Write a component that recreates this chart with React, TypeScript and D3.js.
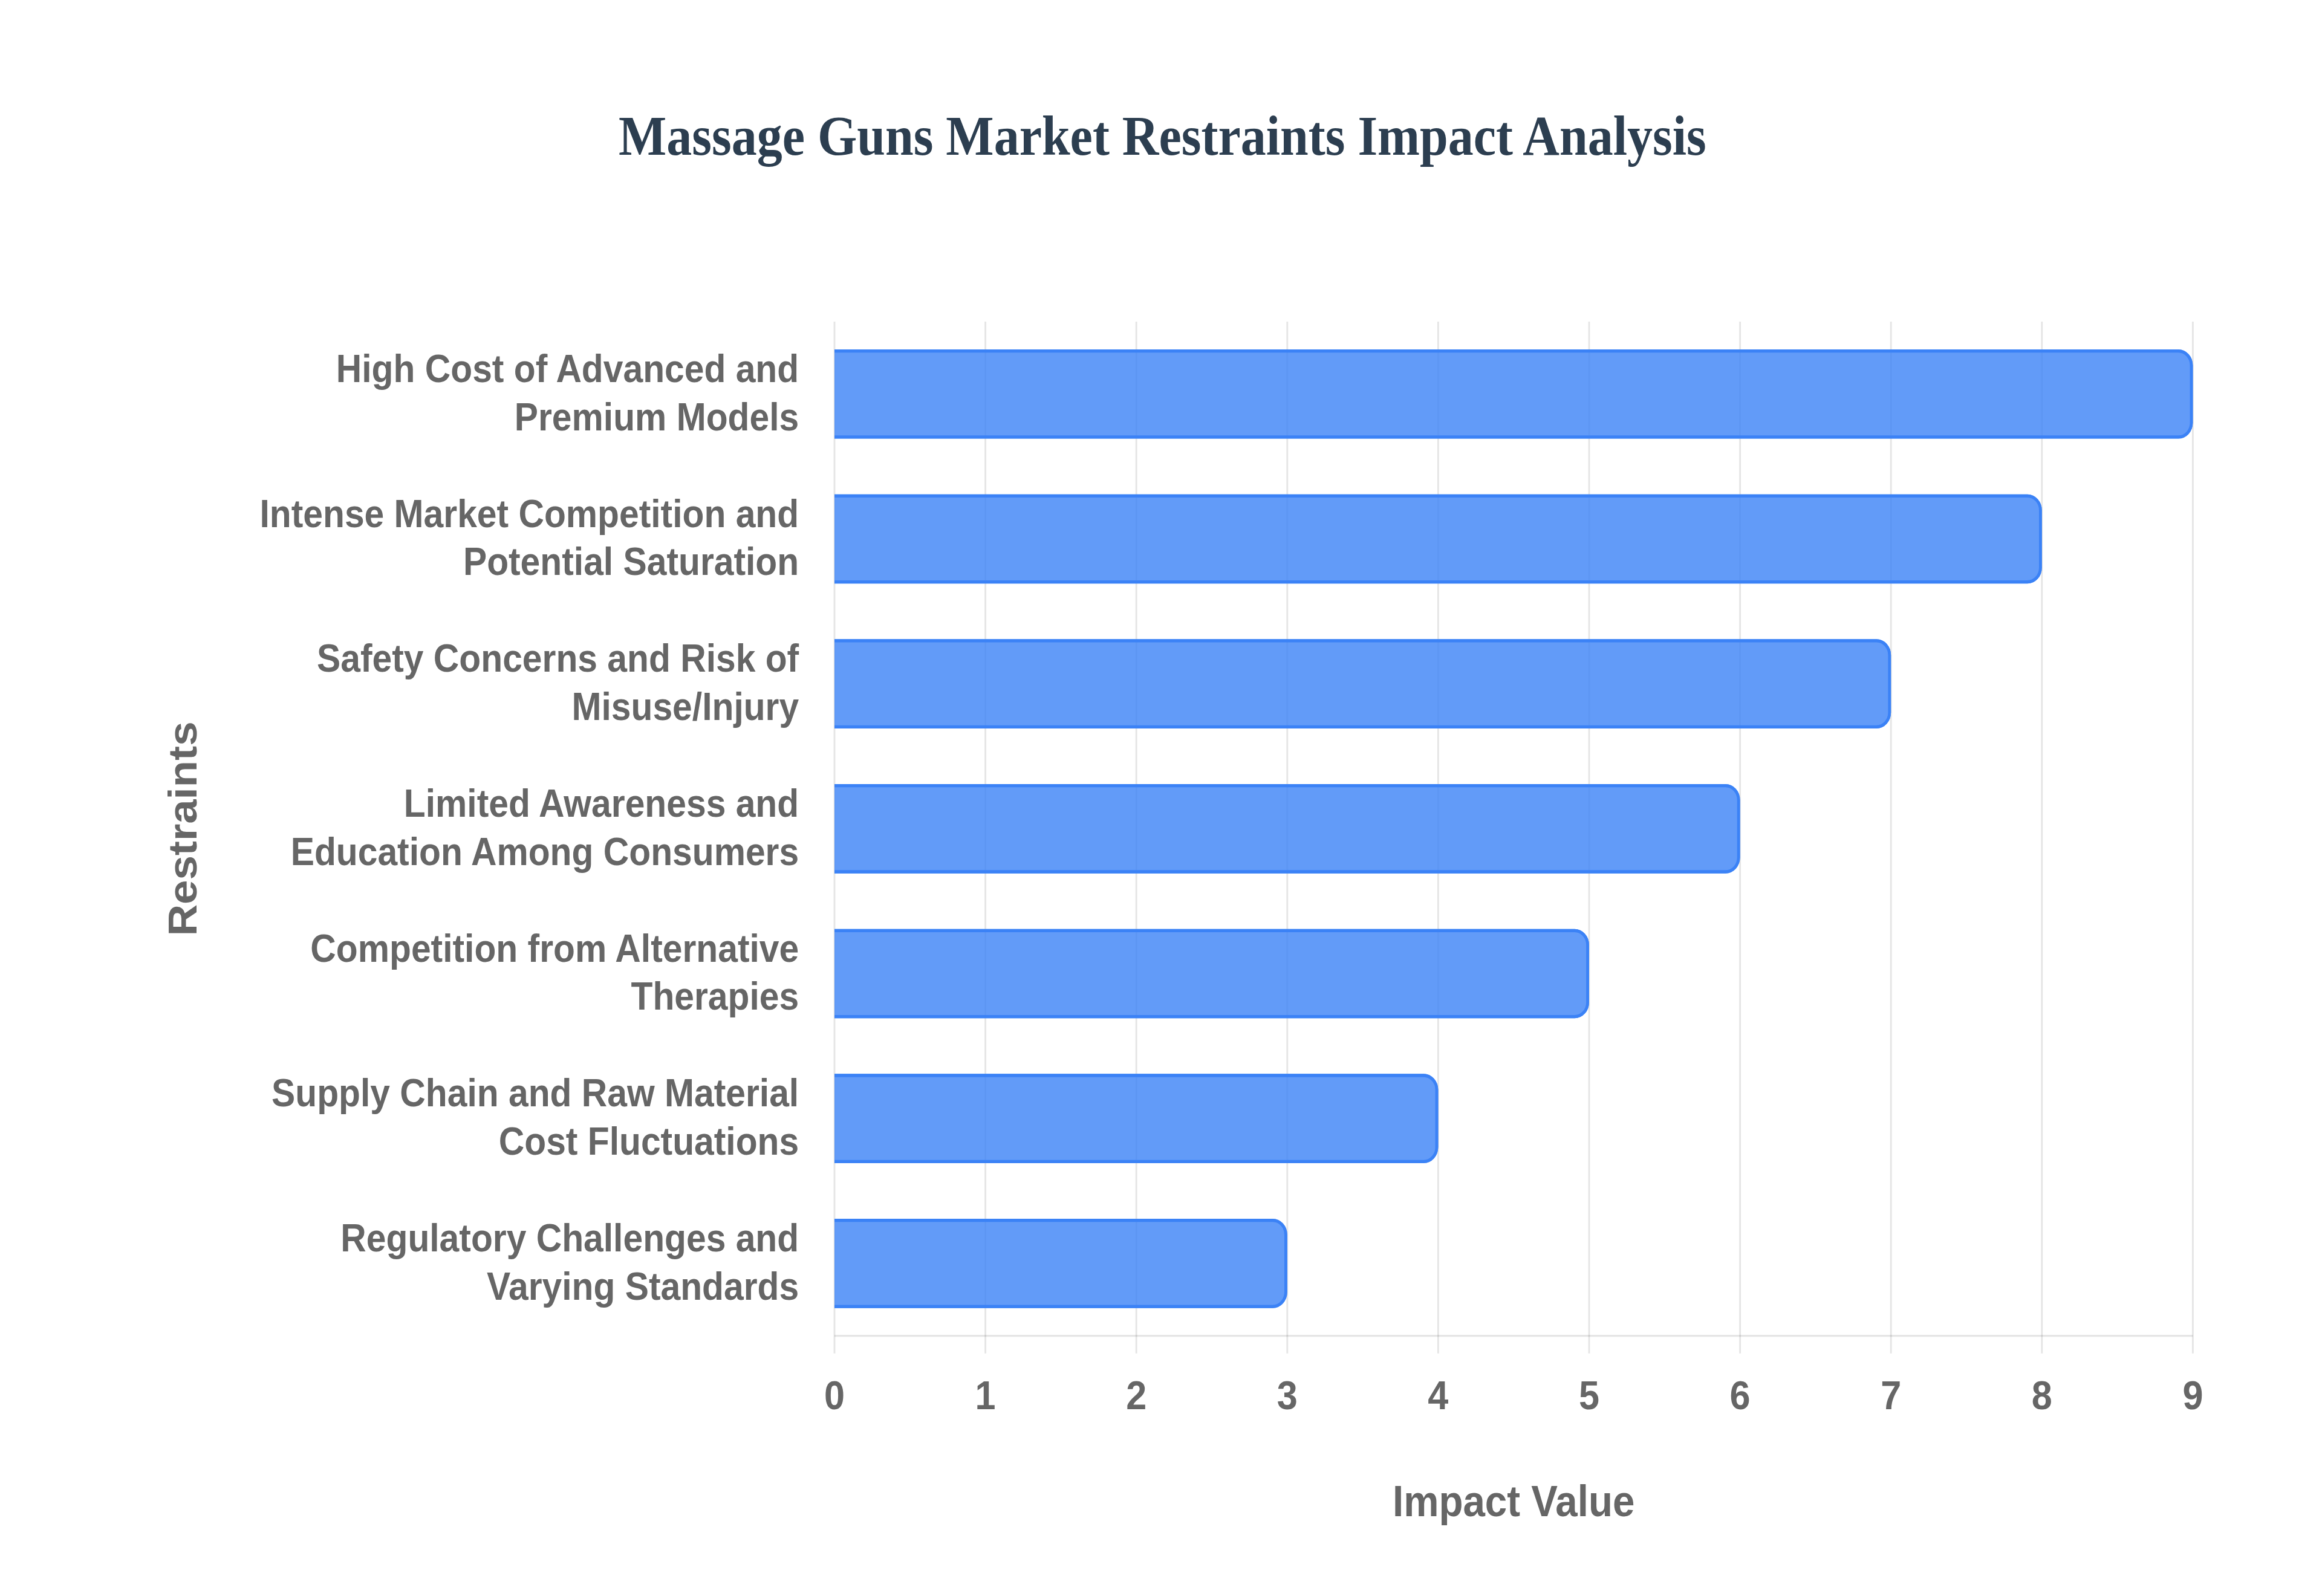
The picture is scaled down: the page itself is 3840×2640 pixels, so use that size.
import React from "react";
import * as d3 from "d3";

// Restraint categories, top to bottom
const restraints = [
  "High Cost of Advanced and Premium Models",
  "Intense Market Competition and Potential Saturation",
  "Safety Concerns and Risk of Misuse/Injury",
  "Limited Awareness and Education Among Consumers",
  "Competition from Alternative Therapies",
  "Supply Chain and Raw Material Cost Fluctuations",
  "Regulatory Challenges and Varying Standards",
];

// wrapped tick labels as they appear on the axis
const restraintLines = [
  ["High Cost of Advanced and", "Premium Models"],
  ["Intense Market Competition and", "Potential Saturation"],
  ["Safety Concerns and Risk of", "Misuse/Injury"],
  ["Limited Awareness and", "Education Among Consumers"],
  ["Competition from Alternative", "Therapies"],
  ["Supply Chain and Raw Material", "Cost Fluctuations"],
  ["Regulatory Challenges and", "Varying Standards"],
];

const impactValues = [9, 8, 7, 6, 5, 4, 3];

const xTicks = [0, 1, 2, 3, 4, 5, 6, 7, 8, 9];

const TITLE = "Massage Guns Market Restraints Impact Analysis";
const X_TITLE = "Impact Value";
const Y_TITLE = "Restraints";

// the chart is laid out in a 1600x1000 box and stretched onto the page
const W = 1600;
const H = 1000;
const plot = { left: 575, right: 1511, top: 201.5, bottom: 837 };

const sans = "'Liberation Sans', Arial, Helvetica, sans-serif";
const serif = "'Liberation Serif', 'Times New Roman', Times, serif";
const labelColor = "#666666";
const gridColor = "rgba(0,0,0,0.1)";

const App: React.FC = () => {
  const x = d3.scaleLinear().domain([0, 9]).range([plot.left, plot.right]);
  const y = d3
    .scaleBand<string>()
    .domain(restraints)
    .range([plot.top, plot.bottom])
    .paddingInner(0.384)
    .paddingOuter(0.192);

  const r = 10;

  return (
    <svg
      width={3840}
      height={2640}
      viewBox={`0 0 ${W} ${H}`}
      preserveAspectRatio="none"
      style={{ position: "absolute", left: 0, top: 0, background: "#ffffff" }}
    >
      <rect width={W} height={H} fill="#ffffff" />

      {/* vertical grid lines with tick marks */}
      {xTicks.map((t) => (
        <line
          key={`g${t}`}
          x1={x(t)}
          x2={x(t)}
          y1={plot.top}
          y2={plot.bottom + 11}
          stroke={gridColor}
          strokeWidth={1.2}
        />
      ))}
      {/* bottom border */}
      <line
        x1={plot.left}
        x2={plot.right}
        y1={plot.bottom}
        y2={plot.bottom}
        stroke={gridColor}
        strokeWidth={1.2}
      />

      {/* bars */}
      {restraints.map((name, i) => {
        const x0 = x(0);
        const x1 = x(impactValues[i]);
        const y0 = y(name) as number;
        const y1 = y0 + y.bandwidth();
        const fillPath = `M${x0},${y0}H${x1 - r}A${r},${r} 0 0 1 ${x1},${y0 + r}V${y1 - r}A${r},${r} 0 0 1 ${x1 - r},${y1}H${x0}Z`;
        const borderPath = `M${x0},${y0 + 1}H${x1 - r}A${r - 1},${r - 1} 0 0 1 ${x1 - 1},${y0 + r}V${y1 - r}A${r - 1},${r - 1} 0 0 1 ${x1 - r},${y1 - 1}H${x0}`;
        return (
          <g key={name}>
            <path d={fillPath} fill="rgba(59,130,246,0.8)" />
            <path d={borderPath} fill="none" stroke="rgb(59,130,246)" strokeWidth={2} />
          </g>
        );
      })}

      {/* x tick labels */}
      {xTicks.map((t) => (
        <text
          key={`t${t}`}
          x={x(t)}
          y={883}
          textAnchor="middle"
          fontFamily={sans}
          fontWeight="bold"
          fontSize={25.5}
          fill={labelColor}
        >
          {t}
        </text>
      ))}

      {/* y category labels */}
      {restraints.map((name, i) => {
        const c = (y(name) as number) + y.bandwidth() / 2;
        return (
          <text
            key={`l${name}`}
            textAnchor="end"
            fontFamily={sans}
            fontWeight="bold"
            fontSize={24.5}
            fill={labelColor}
          >
            {restraintLines[i].map((line, j) => (
              <tspan key={j} x={550.5} y={c - 7.5 + j * 30.2}>
                {line}
              </tspan>
            ))}
          </text>
        );
      })}

      {/* axis titles */}
      <text
        x={(plot.left + plot.right) / 2}
        y={950}
        textAnchor="middle"
        fontFamily={sans}
        fontWeight="bold"
        fontSize={27.3}
        fill={labelColor}
      >
        {X_TITLE}
      </text>
      <text
        transform={`translate(135.4,${(plot.top + plot.bottom) / 2}) rotate(-90)`}
        textAnchor="middle"
        fontFamily={sans}
        fontWeight="bold"
        fontSize={27.5}
        fill={labelColor}
      >
        {Y_TITLE}
      </text>

      {/* chart title */}
      <text
        x={W / 2 + 1}
        y={97}
        textAnchor="middle"
        fontFamily={serif}
        fontWeight="bold"
        fontSize={35}
        fill="#2c3e50"
      >
        {TITLE}
      </text>
    </svg>
  );
};

export default App;
